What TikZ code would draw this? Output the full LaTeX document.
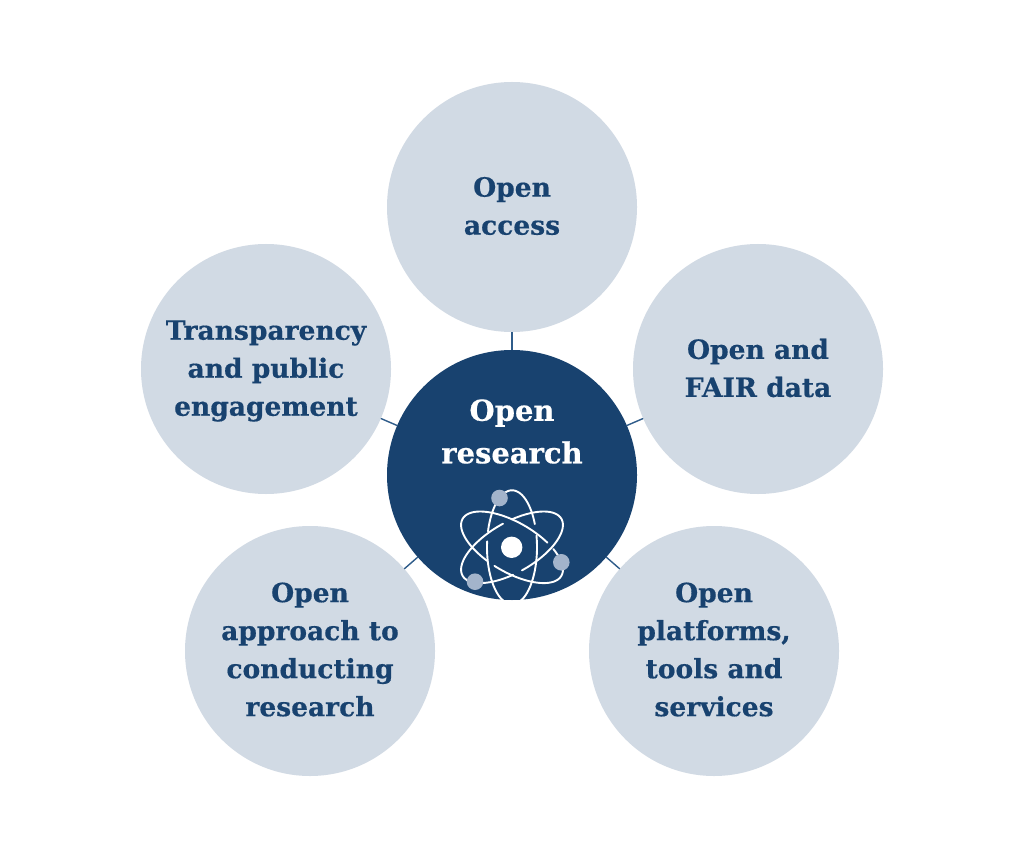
\documentclass[tikz,border=0pt]{standalone}
\usepackage{fontspec}
\setmainfont{DejaVu Serif}[BoldFeatures={FakeBold=0.5}]
\definecolor{navy}{HTML}{18426F}
\definecolor{pale}{HTML}{D1DAE4}
\definecolor{bead}{HTML}{A3B4CB}
\definecolor{link}{HTML}{2F5C8A}
\tikzset{
  sat/.style={circle,fill=pale,minimum size=250pt,inner sep=0pt,outer sep=0pt},
  sattext/.style={align=center,text=navy,inner sep=0pt,font=\fontsize{26.5}{38}\selectfont\bfseries},
  hub/.style={circle,fill=navy,minimum size=250pt,inner sep=0pt,outer sep=0pt},
  hubtext/.style={align=center,text=white,inner sep=0pt,font=\fontsize{29}{42.5}\selectfont\bfseries},
  conn/.style={draw=link,line width=1.4pt},
  orbit/.style={white,line width=1.9pt,line cap=round},
  beadc/.style={circle,fill=bead,minimum size=16.6pt,inner sep=0pt},
  nucleus/.style={circle,fill=white,minimum size=21.4pt,inner sep=0pt}
}
\newcommand{\orbitarc}[6]{% ux uy vx vy from to
  \draw[orbit] plot[domain=#5:#6,samples=70,smooth]
   ({512+57*cos(\x)*(#1)+25*sin(\x)*(#3)},{547.3+57*cos(\x)*(#2)+25*sin(\x)*(#4)});}
\begin{document}
\begin{tikzpicture}[x=1pt,y=-1pt]
\useasboundingbox (0,0) rectangle (1024,858);
\fill[white] (0,0) rectangle (1024,858);
\node[hub] (c) at (512,475) {};
\node[sat] (s1) at (512,207) {};
\node[sat] (s2) at (758,369) {};
\node[sat] (s3) at (714,651) {};
\node[sat] (s4) at (310,651) {};
\node[sat] (s5) at (266,369) {};
\foreach \s in {s1,s2,s3,s4,s5} \draw[conn] (c) -- (\s);
\node[sattext] (t1) at (512,206) {Open\\access};
\node[sattext] (t2) at (758,368) {Open and\\FAIR data};
\node[sattext] (t3) at (714,649.5) {Open\\platforms,\\tools and\\services};
\node[sattext] (t4) at (310,649.5) {Open\\approach to\\conducting\\research};
\node[sattext] (t5) at (266,371) {Transparency\\and public\\engagement};
\node[hubtext] (ct) at (512,431.5) {Open\\research};
% near-vertical ellipse
\orbitarc{0}{-1}{1}{0}{-74}{66}
\orbitarc{0}{-1}{1}{0}{-282}{-84}
% upper-left to lower-right
\orbitarc{.866}{.5}{.5}{-.866}{-96}{50}
\orbitarc{.866}{.5}{.5}{-.866}{60}{255}
% upper-right to lower-left
\orbitarc{.866}{-.5}{-.5}{-.866}{86}{257}
\orbitarc{.866}{-.5}{-.5}{-.866}{267}{436}
\node[nucleus] (n) at (511.7,547.3) {};
\node[beadc] (b1) at (499.5,498) {};
\node[beadc] (b2) at (561.3,562.3) {};
\node[beadc] (b3) at (475,581.7) {};
\end{tikzpicture}
\end{document}
